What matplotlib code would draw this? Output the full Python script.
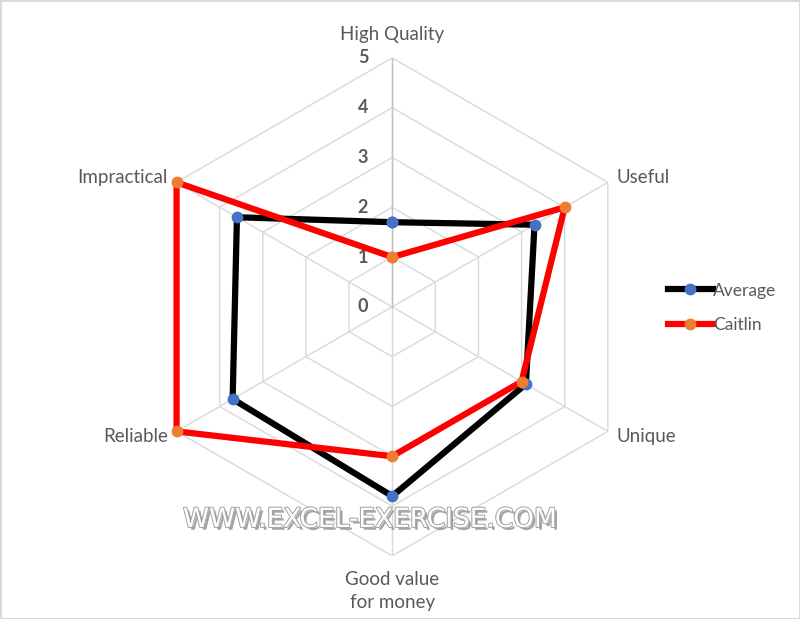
import matplotlib.pyplot as plt
import matplotlib.patheffects as pe
import numpy as np

categories = ["High Quality", "Useful", "Unique", "Good value\nfor money", "Reliable", "Impractical"]
average = [1.7, 3.3, 3.1, 3.8, 3.7, 3.6]
caitlin = [1, 4, 3, 3, 5, 5]
ticks = [0, 1, 2, 3, 4, 5]

plt.rcParams['font.family'] = ['Lato', 'DejaVu Sans']

n = len(categories)
theta = np.linspace(0, 2 * np.pi, n, endpoint=False)
closed = np.append(theta, theta[0])

fig = plt.figure(figsize=(8, 6.19), dpi=100)
ax = fig.add_axes([0.179, 0.102, 0.6225, 0.8045], projection='polar')
ax.set_theta_offset(np.pi / 2)
ax.set_theta_direction(-1)
ax.set_ylim(0, 5)
ax.grid(False)
ax.spines['polar'].set_visible(False)
ax.set_xticks([])
ax.set_yticks([])
ax.patch.set_alpha(0)

# hexagon grid and spokes
for r in ticks[1:]:
    ax.plot(closed, [r] * (n + 1), color="#D9D9D9", lw=1, zorder=1)
for t in theta:
    ax.plot([t, t], [0, 5], color="#D9D9D9", lw=1, zorder=1)
ax.plot([0, 0], [0, 5], color="#BFBFBF", lw=1, zorder=1)

for r in ticks:
    ax.annotate(str(r), xy=(0, r), xytext=(-21, 0), textcoords='offset points',
                ha='center', va='center', fontsize=13, fontweight='bold', color="#595959")

ax.plot(closed, average + average[:1], color="black", lw=4.5, marker='o', markersize=7.5,
        markerfacecolor="#4472C4", markeredgecolor="#4472C4", label="Average", zorder=3,
        clip_on=False)
ax.plot(closed, caitlin + caitlin[:1], color="#FF0000", lw=4.5, marker='o', markersize=7.5,
        markerfacecolor="#ED7D31", markeredgecolor="#ED7D31", label="Caitlin", zorder=4,
        clip_on=False)

# category labels
ha = ['center', 'left', 'left', 'center', 'right', 'right']
va = ['bottom', 'center', 'center', 'top', 'center', 'center']
rr = [5.3, 5.2, 5.2, 5.3, 5.2, 5.2]
for t, lab, h, v, r in zip(theta, categories, ha, va, rr):
    ax.text(t, r, lab, ha=h, va=v, fontsize=13.5, color="#595959", linespacing=1.45)

fig.legend(loc='center left', bbox_to_anchor=(0.815, 0.503), frameon=False, fontsize=12.5,
           handlelength=2.6, handletextpad=0.0, labelspacing=1.05, labelcolor="#595959")

fig.text(0.4625, 0.16, "WWW.EXCEL-EXERCISE.COM", ha='center', va='center', fontsize=19,
         family='DejaVu Sans', color='white',
         path_effects=[pe.withSimplePatchShadow(offset=(2, -2), shadow_rgbFace='#8C8C8C', alpha=0.8),
                       pe.withStroke(linewidth=1.5, foreground='#A6A6A6')])

fig.patch.set_edgecolor("#D9D9D9")
fig.patch.set_linewidth(1)
fig.savefig("out.png", dpi=100)
